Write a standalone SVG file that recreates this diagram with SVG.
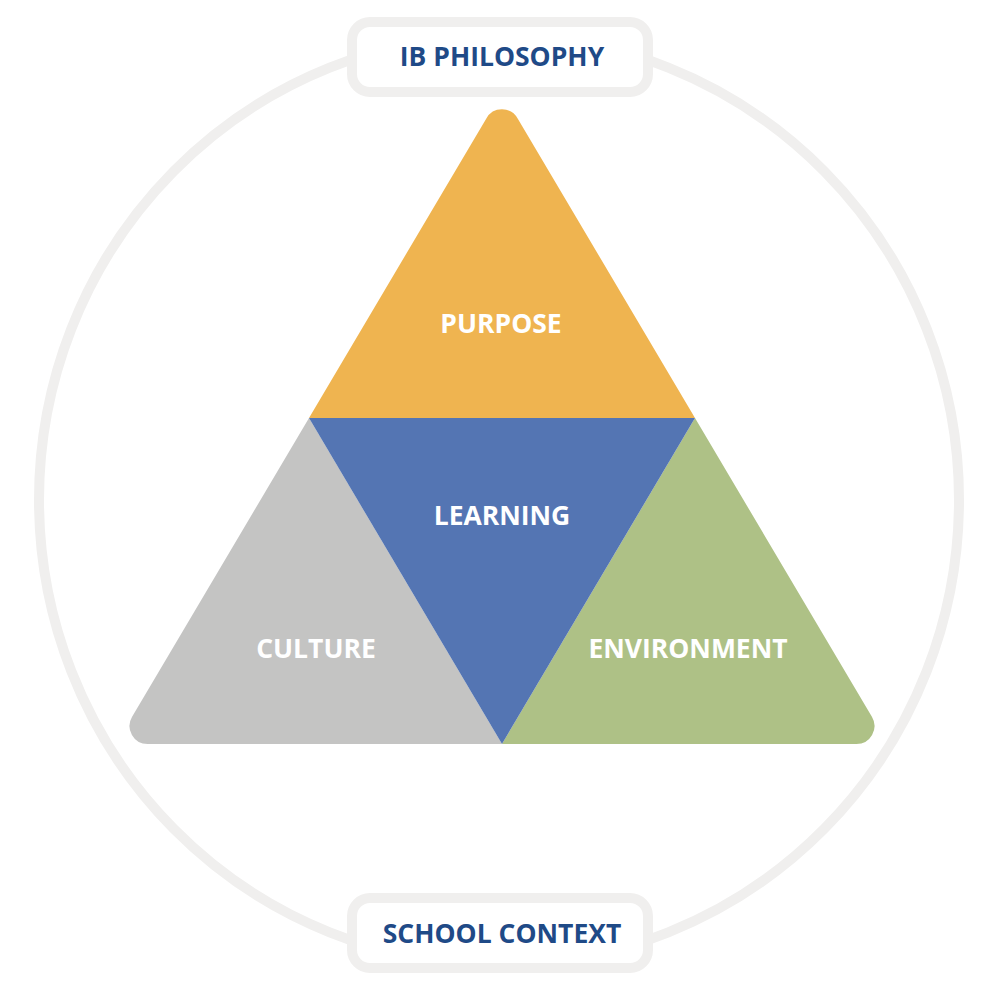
<svg xmlns="http://www.w3.org/2000/svg" width="1004" height="998" viewBox="0 0 1004 998">
<style>
.ring{fill:none;stroke:#f0efee;stroke-width:10}
.pill{fill:#ffffff;stroke:#f0efee;stroke-width:10}
.lbl{font-family:"Open Sans","Noto Sans","Liberation Sans",sans-serif;font-weight:700;font-size:26.5px;text-anchor:middle}
.dark{fill:#1f4a87}
.white{fill:#ffffff}
</style>
<rect width="1004" height="998" fill="#ffffff"/>
<g id="connectors">
<ellipse class="ring" cx="499" cy="500" rx="460" ry="465"/>
</g>
<g id="purpose">
<path d="M309,418 L486.2,118.7 A18 18 0 0 1 517.8,118.7 L695,418 Z" fill="#efb450"/>
<text class="lbl white" x="501" y="333">PURPOSE</text>
</g>
<g id="culture">
<path d="M309,418 L502,744 L147.6,744 A18 18 0 0 1 132.1,716.8 Z" fill="#c4c4c3"/>
<text class="lbl white" x="316" y="658">CULTURE</text>
</g>
<g id="environment">
<path d="M695,418 L871.9,716.8 A18 18 0 0 1 856.4,744 L502,744 Z" fill="#aec186"/>
<text class="lbl white" x="688" y="658">ENVIRONMENT</text>
</g>
<g id="learning">
<path d="M309,418 L695,418 L502,744 Z" fill="#5475b3"/>
<text class="lbl white" x="502" y="525">LEARNING</text>
</g>
<g id="ib-philosophy">
<rect class="pill" x="352" y="22" width="296" height="70" rx="18"/>
<text class="lbl dark" x="502" y="66">IB PHILOSOPHY</text>
</g>
<g id="school-context">
<rect class="pill" x="352" y="898" width="296" height="70" rx="18"/>
<text class="lbl dark" x="502" y="943">SCHOOL CONTEXT</text>
</g>
</svg>
